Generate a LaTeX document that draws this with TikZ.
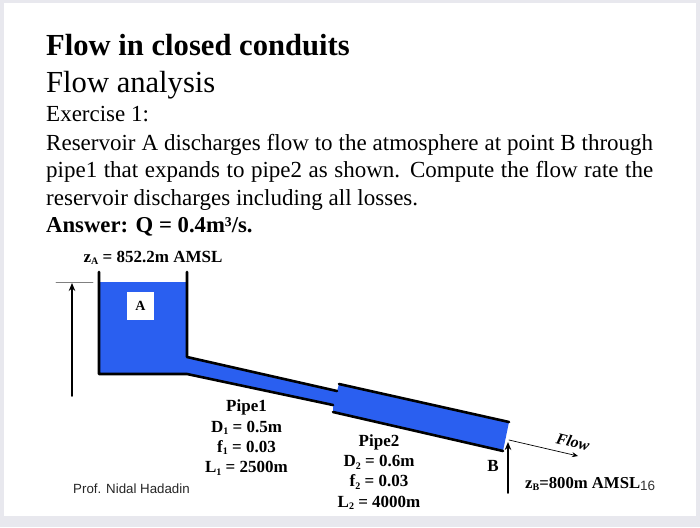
\documentclass[tikz,border=0pt]{standalone}
\usepackage{fontspec}
\usetikzlibrary{arrows.meta}
\setmainfont{Liberation Serif}
\newfontfamily\profsans{Liberation Sans}
\definecolor{waterblue}{HTML}{2A5FF0}
\definecolor{pagegray}{HTML}{E8E8EE}
\newcommand{\lowsub}[1]{\raisebox{-2.5pt}{\fontsize{10}{10}\selectfont #1}}
\tikzset{
	headline/.style={anchor=base west,inner sep=0pt,font=\fontsize{30.6}{32}\selectfont},
	bodyline/.style={anchor=base west,inner sep=0pt,font=\fontsize{23}{25}\selectfont},
	label/.style={inner sep=0pt,font=\fontsize{17}{20.3}\selectfont\bfseries,align=center},
	wall/.style={line width=2.6pt},
	water/.style={fill=waterblue,draw=none},
}
\begin{document}
\begin{tikzpicture}[line cap=round,line join=round,>=stealth,x=1pt,y=-1pt]
		\useasboundingbox (0,0) rectangle (700,527);
		\fill[pagegray] (0,0) rectangle (700,527);
		\fill[white] (4,3) rectangle (696,516);
		% text block
		\node[headline,font=\fontsize{30.6}{32}\selectfont\bfseries] (title) at (46,56) {Flow in closed conduits};
		\node[headline] (subtitle) at (46,92) {Flow analysis};
		\node[bodyline] (exercise) at (46,121) {Exercise 1:};
		\node[bodyline] (lineone) at (46,150.5) {\makebox[607pt][s]{Reservoir A discharges flow to the atmosphere at point B through}};
		\node[bodyline] (linetwo) at (46,177.5) {\makebox[607pt][s]{pipe1 that expands to pipe2 as shown. Compute the flow rate the}};
		\node[bodyline] (linethree) at (46,205) {reservoir discharges including all losses.};
		\node[bodyline,font=\fontsize{22.7}{25}\selectfont\bfseries] (answer) at (46,232) {Answer: Q = 0.4m³/s.};
		% reservoir and pipes
		\coordinate (tankTL) at (99,272);
		\coordinate (tankBL) at (99,374);
		\coordinate (tankBR) at (187,374);
		\coordinate (tankTR) at (187,272);
		\coordinate (tankLip) at (187,357);
		\coordinate (oneTop) at (337,391);
		\coordinate (oneBot) at (333,405);
		\coordinate (twoTL) at (339,384);
		\coordinate (twoBL) at (333,412);
		\coordinate (twoTR) at (509,422);
		\coordinate (twoBR) at (503,451);
		\fill[water] (99,282) -- (187,282) -- (tankLip) -- (oneTop) -- (twoTL) -- (twoTR) -- (twoBR) -- (twoBL) -- (oneBot) -- (tankBR) -- (tankBL) -- cycle;
		\draw[wall] (tankTL) -- (tankBL) -- (tankBR) -- (oneBot);
		\draw[wall] (tankTR) -- (tankLip) -- (oneTop);
		\draw[wall] (twoTL) -- (twoTR);
		\draw[wall] (twoBL) -- (twoBR);
		\node[fill=white,minimum width=27pt,minimum height=28pt,inner sep=0pt,font=\fontsize{14}{16}\selectfont\bfseries] (resA) at (140.5,306) {A};
		% levels
		\coordinate (levelL) at (56,282);
		\coordinate (levelR) at (93,282);
		\draw[gray,line width=0.8pt] (levelL) -- (levelR);
		\coordinate (zAfoot) at (72,396);
		\coordinate (zAhead) at (72,283);
		\draw[-{Stealth[length=8pt,width=6.5pt]},line width=1.5pt] (zAfoot) -- (zAhead);
		\coordinate (zBfoot) at (508,493);
		\coordinate (zBhead) at (508,442);
		\draw[-{Stealth[length=8pt,width=6.5pt]},line width=1.5pt] (zBfoot) -- (zBhead);
		\coordinate (flowS) at (509,440);
		\coordinate (flowE) at (578,456);
		\draw[-{Stealth[length=6pt,width=5pt]},line width=0.7pt] (flowS) -- (flowE);
		% labels
		\node[label] (zA) at (153,258) {z\lowsub{A} = 852.2m AMSL};
		\node[label,font=\fontsize{16}{18}\selectfont\bfseries\itshape,rotate=-14] (flowtxt) at (573,442) {Flow};
		\node[label] (ptB) at (493,466) {B};
		\node[label,anchor=base west,font=\fontsize{16.7}{20}\selectfont\bfseries] (zB) at (525,488) {z\lowsub{B}=800m AMSL};
		\node[label] (pipeone) at (246.5,437.5) {Pipe1\\D\lowsub{1} = 0.5m\\f\lowsub{1} = 0.03\\L\lowsub{1} = 2500m};
		\node[label] (pipetwo) at (379,472) {Pipe2\\D\lowsub{2} = 0.6m\\f\lowsub{2} = 0.03\\L\lowsub{2} = 4000m};
		\node[inner sep=0pt,anchor=base west,font=\profsans\fontsize{13.3}{15}\selectfont,text=black!85] (prof) at (73,493) {Prof. Nidal Hadadin};
		\node[inner sep=0pt,anchor=base west,font=\profsans\fontsize{13.5}{16}\selectfont,text=black!80] (pageno) at (640,490) {16};
	\end{tikzpicture}
\end{document}
